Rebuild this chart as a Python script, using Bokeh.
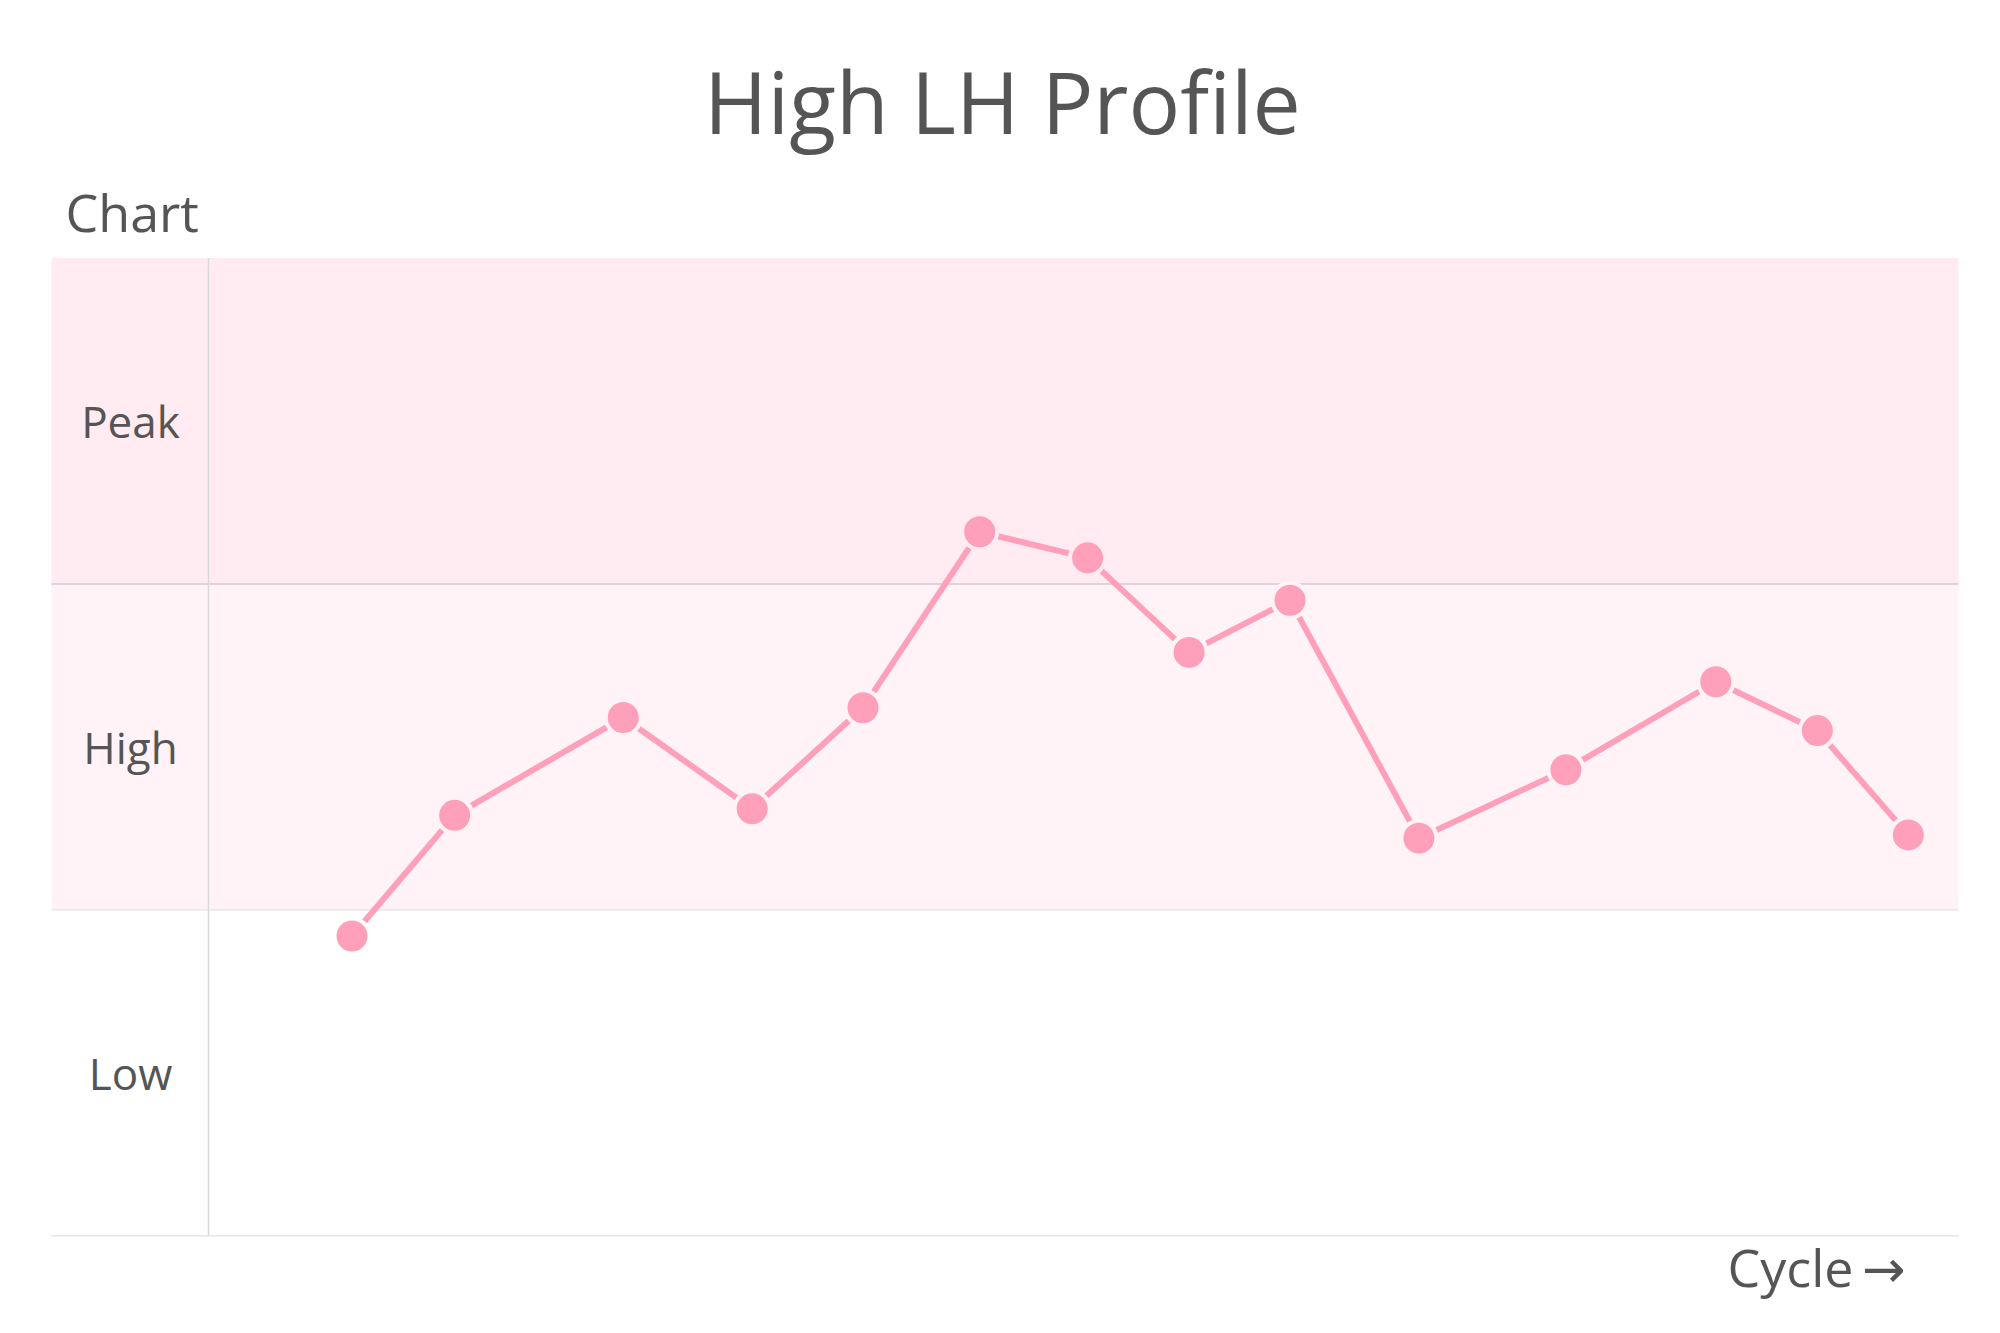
from bokeh.plotting import figure
from bokeh.models import Range1d
from bokeh.core.properties import value
from bokeh.embed import file_html
from bokeh.resources import INLINE

# ---------------- data ----------------
cycle_day = [2.46, 4.22, 7.11, 9.32, 11.22, 13.22, 15.07, 16.81, 18.54, 20.75, 23.27, 25.84, 27.58, 29.14]
lh_level = [0.92, 1.29, 1.59, 1.31, 1.62, 2.16, 2.08, 1.79, 1.95, 1.22, 1.43, 1.70, 1.55, 1.23]
band_names = ["Low", "High", "Peak"]
band_bottom = [0, 1, 2]
band_top = [1, 2, 3]
band_colors = ["#FFFFFF", "#FFF3F7", "#FFEBF1"]
boundary_levels = [0, 1, 2]
boundary_colors = ["#E6E6E6", "#E8E6E7", "#D6CACF"]
x_start, x_end = 0, 30
title_text = "High LH Profile"
y_title_text = "Chart"
x_title_text = "Cycle"
x_title_arrow = "\u2192"

# ---------------- layout (figure pixels) ----------------
W, H = 1984, 1317
PLOT_L, PLOT_R, AXIS_X = 51, 1958, 208
PLOT_T, PLOT_B = 257.5, 1235.3
TEXT = "#555555"
PINK = "#FFA0BA"
FONT = value("Open Sans")

u = (PLOT_R - AXIS_X) / (x_end - x_start)
v = (PLOT_B - PLOT_T) / (band_top[-1] - band_bottom[0])


def dx(px):
    return x_start + (px - AXIS_X) / u


def dy(py):
    return (PLOT_B - py) / v


p = figure(width=W, height=H, output_backend="svg", toolbar_location=None,
           x_axis_location=None, y_axis_location=None,
           x_range=Range1d(dx(0), dx(W)), y_range=Range1d(dy(H), dy(0)),
           min_border=0, outline_line_color=None, tools="")
p.grid.visible = False
p.background_fill_color = "white"
p.border_fill_color = "white"

left_edge = dx(PLOT_L)
# bands
p.quad(left=[left_edge] * 3, right=[x_end] * 3, bottom=band_bottom, top=band_top,
       fill_color=band_colors, line_color=None)
# band boundary lines
p.segment(x0=[left_edge] * 3, x1=[x_end] * 3, y0=boundary_levels, y1=boundary_levels,
          line_color=boundary_colors, line_width=1.5)
# vertical axis line
p.segment(x0=[x_start], x1=[x_start], y0=[band_bottom[0]], y1=[band_top[-1]],
          line_color="#D9D9D9", line_width=1.5)

# band labels
mids = [(b + t) / 2 for b, t in zip(band_bottom, band_top)]
p.text(x=[dx(130)] * 3, y=mids, text=band_names, text_font=FONT, text_font_size="44px",
       text_color=TEXT, text_align="center", text_baseline="middle")

# series
halo = [band_colors[min(int(y), len(band_colors) - 1)] for y in lh_level]
p.line(cycle_day, lh_level, line_color=PINK, line_width=6)
p.scatter(cycle_day, lh_level, size=35, fill_color=PINK, line_color=halo, line_width=4)

# titles
p.text(x=[dx(1002)], y=[dy(100)], text=[title_text], text_font=FONT, text_font_size="86px",
       text_color=TEXT, text_align="center", text_baseline="middle")
p.text(x=[dx(65)], y=[dy(211)], text=[y_title_text], text_font=FONT, text_font_size="52px",
       text_color=TEXT, text_align="left", text_baseline="middle")
p.text(x=[dx(1853)], y=[dy(1266)], text=[x_title_text], text_font=FONT, text_font_size="52px",
       text_color=TEXT, text_align="right", text_baseline="middle")
p.text(x=[dx(1905)], y=[dy(1268)], text=[x_title_arrow], text_font=value("DejaVu Sans"),
       text_font_size="52px", text_color=TEXT, text_align="right", text_baseline="middle")

open("out.html", "w").write(file_html(p, INLINE))
